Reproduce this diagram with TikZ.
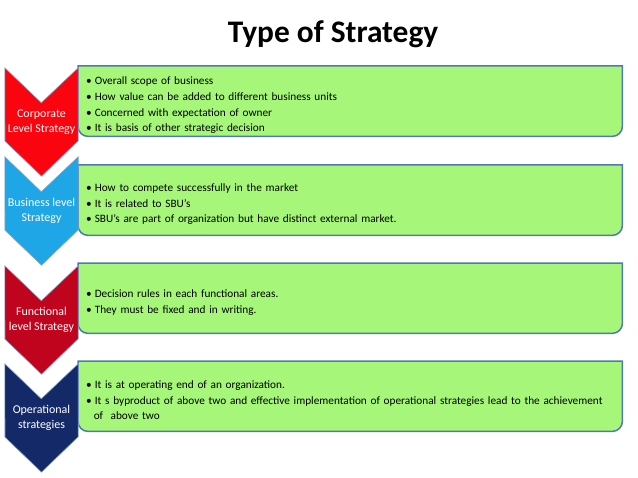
\documentclass[tikz,border=0pt]{standalone}
\usepackage{fontspec}
\setmainfont{Carlito}
\usetikzlibrary{backgrounds}
\definecolor{chevred}{RGB}{250,5,15}
\definecolor{chevsky}{RGB}{30,166,230}
\definecolor{chevcrimson}{RGB}{192,4,30}
\definecolor{chevnavy}{RGB}{20,42,104}
\definecolor{panelgreen}{RGB}{166,246,122}
\definecolor{panelline}{RGB}{80,122,170}
\tikzset{
chevron/.style={ rectangle, minimum width=73bp, minimum height=108bp, inner sep=0pt, text=white, align=center, font=\fontsize{12}{15.5}\selectfont},
chevline/.style={draw=panelline!70, line width=0.6bp},
panel/.style={ anchor=north west, minimum width=544bp, minimum height=70bp, inner xsep=8bp, inner ysep=0pt, yshift=2bp, text width=528bp, align=left, font=\fontsize{11.3}{15.9}\selectfont},
panelback/.style={fill=panelgreen, draw=panelline, line width=1.5bp},
title/.style={font=\bfseries\fontsize{31.5}{36}\selectfont},
}
\newcommand\bitem[1]{\par\noindent\textbullet\hspace{3bp}#1}
\newcommand\bcont[1]{\par\noindent\phantom{\textbullet}\hspace{2bp}#1}

\begin{document}
\begin{tikzpicture}
[x=1bp, y=-1bp]
\useasboundingbox (0,0) rectangle (638,478);

\node[title, anchor=base] (head) at (333,43) {Type of Strategy};

\node[panel] (corpbox) at (78,68) {\bitem{Overall scope of business}\bitem{How value can be added to different business units}\bitem{Concerned with expectation of owner}\bitem{It is basis of other strategic decision}};
\node[panel] (busbox) at (78,167) {\bitem{How to compete successfully in the market}\bitem{It is related to SBU’s}\bitem{SBU’s are part of organization but have distinct external market.}};
\node[panel] (funcbox) at (78,265) {\bitem{Decision rules in each functional areas.}\bitem{They must be fixed and in writing.}};
\node[panel] (opbox) at (78,363) {\bitem{It is at operating end of an organization.}\bitem{It s byproduct of above two and effective implementation of operational strategies lead to the achievement}\bcont{of~ above two}};

\node[chevron] (corp) at (41.5,122) {Corporate\\Level Strategy};
\node[chevron] (bus) at (41.5,211) {Business level\\Strategy};
\node[chevron] (func) at (41.5,320) {Functional\\level Strategy};
\node[chevron] (op) at (41.5,418) {Operational\\strategies};

\begin{scope}[on background layer]
\draw[panelback] (corpbox.north west) -- (corpbox.north east) [rounded corners=10bp] -- (corpbox.south east) -- (corpbox.south west) [sharp corners] -- cycle;
\draw[panelback] (busbox.north west) -- (busbox.north east) [rounded corners=10bp] -- (busbox.south east) -- (busbox.south west) [sharp corners] -- cycle;
\draw[panelback] (funcbox.north west) -- (funcbox.north east) [rounded corners=10bp] -- (funcbox.south east) -- (funcbox.south west) [sharp corners] -- cycle;
\draw[panelback] (opbox.north west) -- (opbox.north east) [rounded corners=10bp] -- (opbox.south east) -- (opbox.south west) [sharp corners] -- cycle;

\draw[chevline, fill=chevred] (corp.north west) -- ++(36.5,35) -- (corp.north east) -- ++(0,73) -- (corp.south) -- ++(-36.5,-35) -- cycle;
\draw[chevline, fill=chevsky] (bus.north west) -- ++(36.5,35) -- (bus.north east) -- ++(0,73) -- (bus.south) -- ++(-36.5,-35) -- cycle;
\draw[chevline, fill=chevcrimson] (func.north west) -- ++(36.5,35) -- (func.north east) -- ++(0,73) -- (func.south) -- ++(-36.5,-35) -- cycle;
\draw[chevline, fill=chevnavy] (op.north west) -- ++(36.5,35) -- (op.north east) -- ++(0,73) -- (op.south) -- ++(-36.5,-35) -- cycle;
\end{scope}

\end{tikzpicture}
\end{document}
